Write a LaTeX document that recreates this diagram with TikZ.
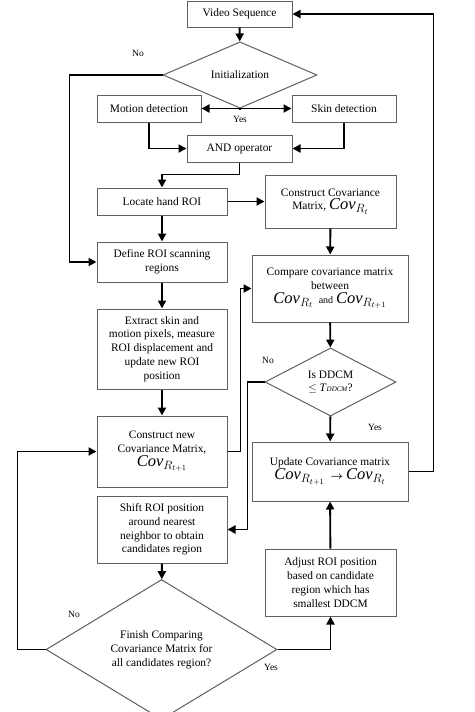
\documentclass[tikz,border=0pt]{standalone}
\usepackage{amsmath}
\usepackage{amssymb}
\usepackage{fontspec}
\setmainfont{Liberation Serif}
\usepackage{tikz}
\usetikzlibrary{shapes.geometric,arrows.meta}
\definecolor{black}{RGB}{0,0,0}
\definecolor{box_gray}{RGB}{95,95,95}
\newcommand{\covR}[1]{{\fontsize{16.5}{17}\selectfont$\mathit{Cov}_{R_{#1}}$}}

\begin{document}
\begin{tikzpicture}[x=1pt,y=-1pt,
	font=\fontsize{11.4}{13.8}\selectfont,
	box/.style={rectangle,draw=box_gray,line width=1pt,align=center,inner sep=2pt},
	decision/.style={diamond,draw=box_gray,line width=1pt,align=center,inner sep=0pt},
	line/.style={draw=black,line width=1.9pt,-{Triangle[length=8pt,width=8pt]}},
	lbl/.style={font=\fontsize{9.5}{11}\selectfont}]
	\useasboundingbox (0,0) rectangle (474,712);

	\node[box,minimum width=105pt,minimum height=26pt] (video) at (239.5,14) {Video Sequence};
	\node[decision,minimum width=154pt,minimum height=40pt] (init) at (240,75) {Initialization};
	\node[box,minimum width=104pt,minimum height=27pt] (motion) at (149,108.5) {Motion detection};
	\node[box,minimum width=104pt,minimum height=27pt] (skin) at (344,108.5) {Skin detection};
	\node[box,minimum width=105pt,minimum height=27pt] (and) at (239.5,148.5) {AND operator};
	\node[box,minimum width=130pt,minimum height=27pt] (locate) at (162,201.5) {Locate hand ROI};
	\node[box,minimum width=131pt,minimum height=53pt] (cov) at (330.5,201.5) {Construct Covariance\\Matrix, \covR{t}};
	\node[box,minimum width=130pt,minimum height=40pt] (define) at (162,262) {Define ROI scanning\\regions};
	\node[box,minimum width=156pt,minimum height=67pt] (compare) at (330,288.5) {Compare covariance matrix\\between\\\covR{t}\ \ {\fontsize{10}{12}\selectfont and}\ \covR{t+1}};
	\node[box,minimum width=130pt,minimum height=80pt] (extract) at (162,349) {Extract skin and\\motion pixels, measure\\ROI displacement and\\update new ROI\\position};
	\node[decision,minimum width=131pt,minimum height=66pt] (ddcm) at (330.5,382) {Is DDCM\\$\leq$ \textit{T}{\fontsize{7}{8}\selectfont\textit{DDCM}}?};
	\node[box,minimum width=130pt,minimum height=71pt] (cnew) at (162,451.5) {Construct new\\Covariance Matrix,\\\covR{t+1}};
	\node[box,minimum width=156pt,minimum height=59pt] (update) at (330,471.5) {Update Covariance matrix\\\covR{t+1}\ \ $\boldsymbol{\rightarrow}$\ \covR{t}};
	\node[box,minimum width=130pt,minimum height=67pt] (shift) at (162,529.5) {Shift ROI position\\around nearest\\neighbor to obtain\\candidates region};
	\node[box,minimum width=131pt,minimum height=67pt] (adjust) at (330.5,582.5) {Adjust ROI position\\based on candidate\\region which has\\smallest DDCM};
	\node[decision,minimum width=231pt,minimum height=121pt] (finish) at (161.5,649.5) {Finish Comparing\\Covariance Matrix for\\all candidates region?};

	\node[lbl] (no1) at (138,53) {No};
	\node[lbl] (yes1) at (240,119) {Yes};
	\node[lbl] (no2) at (268,360) {No};
	\node[lbl] (yes2) at (375,427) {Yes};
	\node[lbl] (no3) at (74,614) {No};
	\node[lbl] (yes3) at (271,667) {Yes};

	\foreach \x/\y in {video/init,locate/cov,locate/define,cov/compare,define/extract,extract/cnew,compare/ddcm,ddcm/update,shift/finish,adjust/update}
		\draw[line] (\x) -- (\y);
	\draw[line] (init.west) -| ([xshift=-27pt]define.west) -- (define.west);
	\draw[line] (init.south) |- (motion.east);
	\draw[line] (init.south) |- (skin.west);
	\draw[line] (motion.south) |- (and.west);
	\draw[line] (skin.south) |- (and.east);
	\draw[line] (and.south) -- ++(0,12) -| (locate.north);
	\draw[line] (cnew.east) -- ++(13,0) |- (compare.west);
	\draw[line] (ddcm.west) -- ++(-17,0) |- (shift.east);
	\draw[line] (update.east) -- ++(25,0) |- (video.east);
	\draw[line] (finish.west) -- ++(-28,0) |- (cnew.west);
	\draw[line] (finish.east) -| (adjust.south);
\end{tikzpicture}
\end{document}
